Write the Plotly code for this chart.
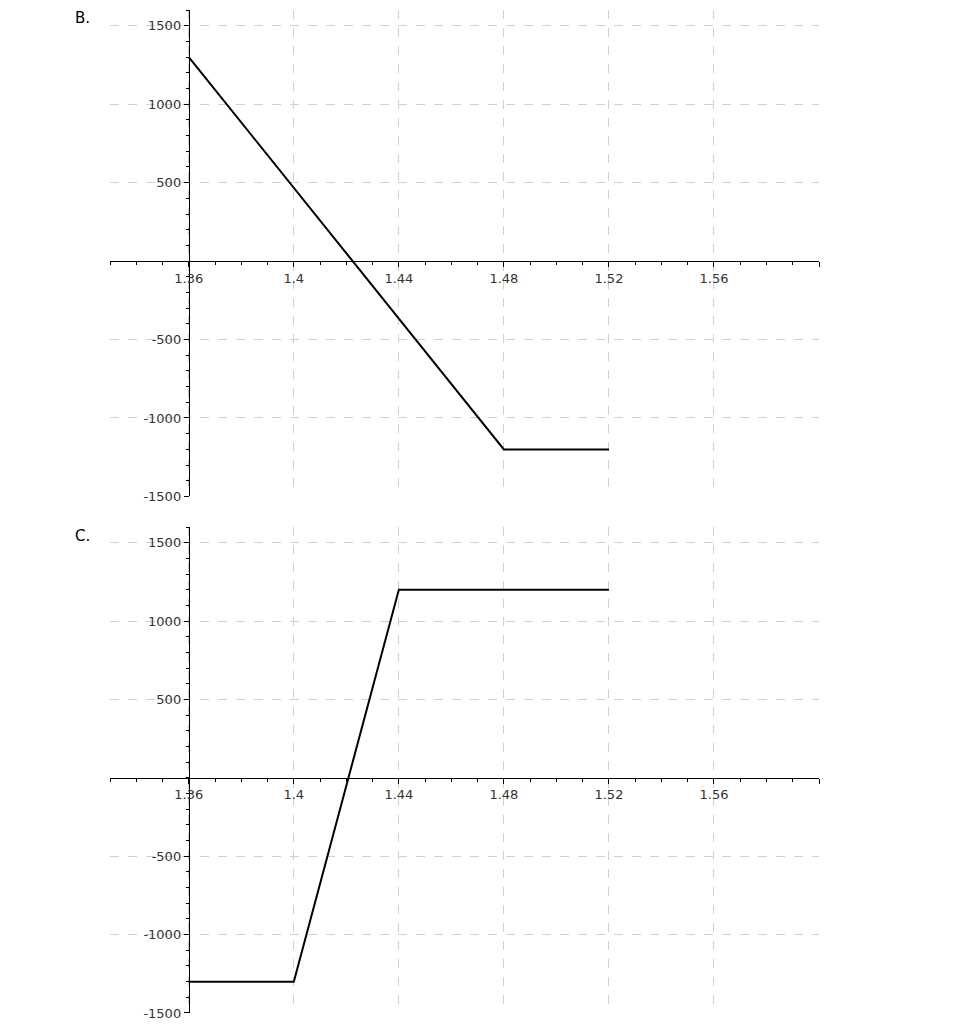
import plotly.graph_objects as go

# panel B
b_x = [1.36, 1.48, 1.52]
b_y = [1300, -1200, -1200]
# panel C
c_x = [1.36, 1.40, 1.44, 1.52]
c_y = [-1300, -1300, 1200, 1200]

x_ticks = [1.36, 1.40, 1.44, 1.48, 1.52, 1.56]
x_labels = ["1.36", "1.4", "1.44", "1.48", "1.52", "1.56"]
y_ticks = [-1500, -1000, -500, 500, 1000, 1500]
y_labels = ["-1500", "-1000", "-500", "500", "1000", "1500"]

x_range = [1.33, 1.60]
y_range = [-1500, 1600]
y_pos = 1500 / 3100
x_pos = (1.36 - 1.33) / 0.27

fig = go.Figure()
fig.add_trace(go.Scatter(x=b_x, y=b_y, mode="lines", line=dict(color="black", width=2),
                         xaxis="x", yaxis="y", showlegend=False))
fig.add_trace(go.Scatter(x=c_x, y=c_y, mode="lines", line=dict(color="black", width=2),
                         xaxis="x2", yaxis="y2", showlegend=False))

doms = {"": [0.515, 1.0], "2": [0.0, 0.4845]}
for s, dom in doms.items():
    grid = dict(showgrid=True, gridcolor="#d0d0d0", griddash="dash", gridwidth=1,
                zeroline=False, showline=True, linecolor="black", linewidth=1,
                ticks="outside", ticklen=5, tickcolor="black",
                tickfont=dict(family="DejaVu Sans", size=13, color="#333"),
                minor=dict(ticks="outside", ticklen=3, tickcolor="black", showgrid=False))
    fig.update_layout(**{
        "xaxis" + s: dict(grid, range=x_range, tickvals=x_ticks + [1.60],
                          ticktext=x_labels + [""], anchor="free",
                          position=dom[0] + (dom[1] - dom[0]) * y_pos,
                          minor=dict(grid["minor"], dtick=0.01, tick0=1.36)),
        "yaxis" + s: dict(grid, range=y_range, domain=dom, tickvals=y_ticks,
                          ticktext=y_labels, anchor="free", position=x_pos,
                          minor=dict(grid["minor"], dtick=100, tick0=0)),
    })

for lbl, yy in [("B.", 0.992), ("C.", 0.4756)]:
    fig.add_annotation(text=lbl, x=-0.025, y=yy, xref="paper", yref="paper",
                       showarrow=False, xanchor="right", yanchor="middle",
                       font=dict(family="DejaVu Sans", size=15, color="black"))

fig.update_layout(width=963, height=1024, margin=dict(l=102, r=152, t=2, b=19),
                  plot_bgcolor="white", paper_bgcolor="white")
fig.write_html("out.html")
